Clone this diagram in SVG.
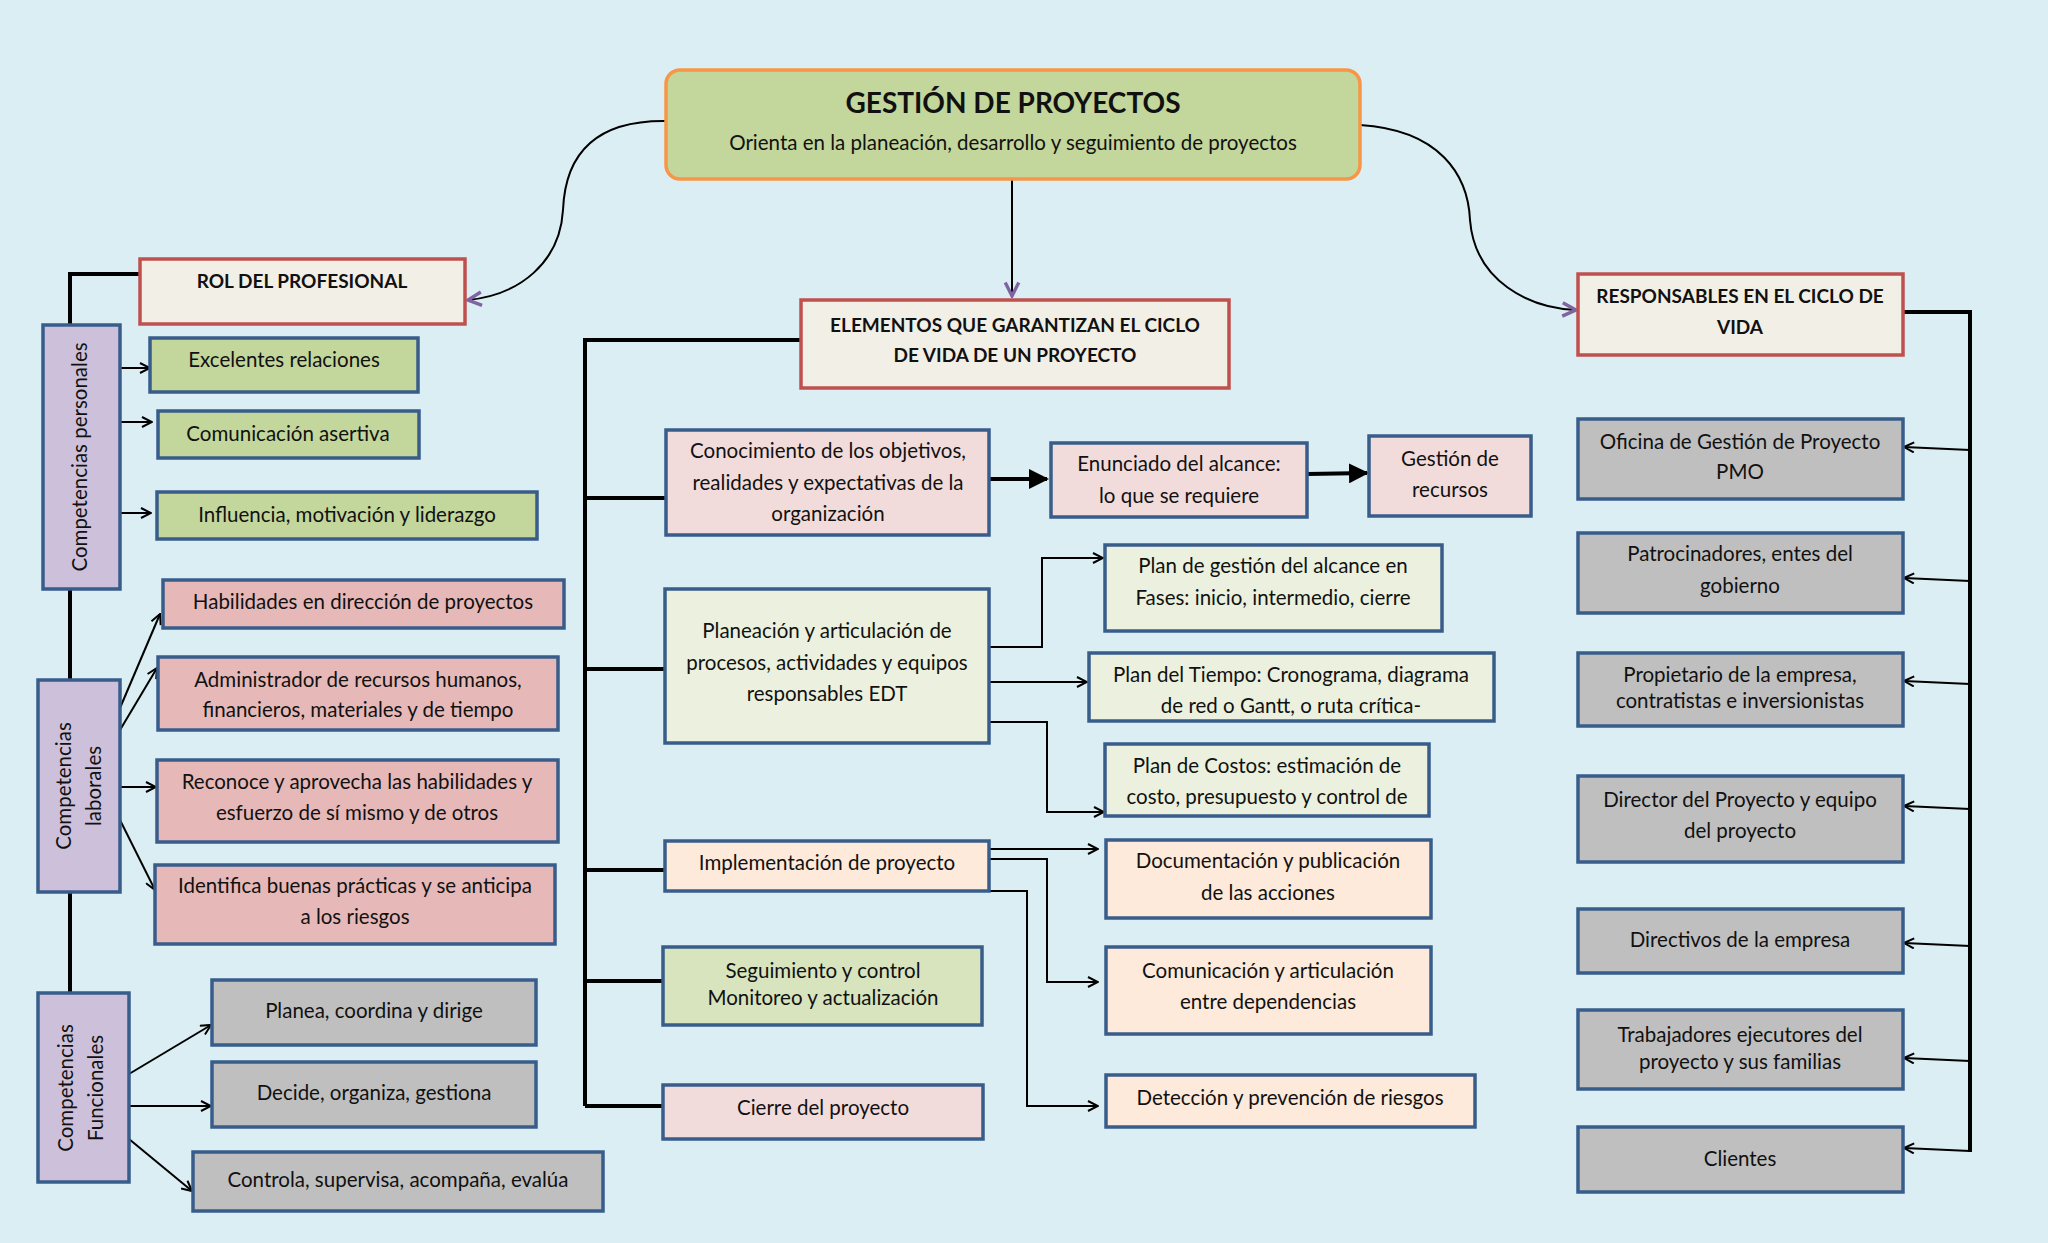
<svg xmlns="http://www.w3.org/2000/svg" width="2048" height="1243" viewBox="0 0 2048 1243">
<style>
text{font-family:Lato,"Open Sans",sans-serif;font-size:20.5px;fill:#111;text-anchor:middle;dominant-baseline:middle}
.b{font-weight:bold;font-size:19px}
.n rect{stroke:#385d8a;stroke-width:3.5}
.g rect{fill:#c3d69b}.p rect{fill:#e6b9b8}.gr rect{fill:#bfbfbf}.v rect{fill:#ccc0da}
.lp rect{fill:#f2dcdb}.lg rect{fill:#ebf1de}.or rect{fill:#fdeada}.mg rect{fill:#d7e4bd}
.h rect{fill:#f2efe6;stroke:#c0504d;stroke-width:3.5}
.c path,.c line{fill:none;stroke:#000;stroke-width:2}
.k{stroke-width:4!important}
.pu{fill:none;stroke:#8064a2;stroke-width:3}
</style>
<defs>
<marker id="a" viewBox="0 0 12 12" refX="11" refY="6" markerWidth="12" markerHeight="12" markerUnits="userSpaceOnUse" orient="auto"><path d="M1,1 L11,6 L1,11" fill="none" stroke="#000" stroke-width="2"/></marker>
<marker id="t" viewBox="0 0 10 10" refX="9" refY="5" markerWidth="5" markerHeight="5" orient="auto"><path d="M0,0 L10,5 L0,10 z" fill="#000"/></marker>
<marker id="pm" viewBox="0 0 16 16" refX="14" refY="8" markerWidth="18" markerHeight="18" markerUnits="userSpaceOnUse" orient="auto"><path d="M2,2 L14,8 L2,14" fill="none" stroke="#8064a2" stroke-width="3"/></marker>
<clipPath id="c1"><rect x="1089" y="653" width="405" height="66"/></clipPath>
<clipPath id="c2"><rect x="1105" y="744" width="324" height="70"/></clipPath>
</defs>
<rect width="2048" height="1243" fill="#dbeef4"/>
<g class="c">
<path class="pu" d="M666,121 C590,120 565,160 563,210 C560,262 520,295 468,300" marker-end="url(#pm)"/>
<path class="pu" d="M1012,179 L1012,296" marker-end="url(#pm)"/>
<path class="pu" d="M1360,125 C1440,130 1468,175 1470,220 C1475,282 1530,308 1576,310" marker-end="url(#pm)"/>
<path class="k" d="M140,274 H70 V993"/>
<line x1="120" y1="368" x2="150" y2="368" marker-end="url(#a)"/>
<line x1="120" y1="422" x2="152" y2="422" marker-end="url(#a)"/>
<line x1="120" y1="513" x2="151" y2="513" marker-end="url(#a)"/>
<line x1="120" y1="708" x2="160" y2="614" marker-end="url(#a)"/>
<line x1="120" y1="730" x2="157" y2="668" marker-end="url(#a)"/>
<line x1="120" y1="787" x2="156" y2="787" marker-end="url(#a)"/>
<line x1="120" y1="820" x2="155" y2="890" marker-end="url(#a)"/>
<line x1="129" y1="1074" x2="211" y2="1025" marker-end="url(#a)"/>
<line x1="129" y1="1106" x2="211" y2="1106" marker-end="url(#a)"/>
<line x1="129" y1="1139" x2="192" y2="1191" marker-end="url(#a)"/>
<path class="k" d="M801,340 H585 V1106 M585,498 H666 M585,669 H665 M585,870 H665 M585,981 H663 M585,1106 H663"/>
<line class="k" x1="989" y1="479" x2="1047" y2="479" marker-end="url(#t)"/>
<line class="k" x1="1307" y1="474" x2="1367" y2="473" marker-end="url(#t)"/>
<path d="M989,647 H1042 V558 H1103" marker-end="url(#a)"/>
<path d="M989,682 H1087" marker-end="url(#a)"/>
<path d="M989,722 H1047 V812 H1104" marker-end="url(#a)"/>
<path d="M989,849 H1098" marker-end="url(#a)"/>
<path d="M989,859 H1047 V982 H1098" marker-end="url(#a)"/>
<path d="M989,891 H1027 V1106 H1098" marker-end="url(#a)"/>
<path class="k" d="M1903,312 H1970 V1152"/>
<line x1="1970" y1="450" x2="1904" y2="447" marker-end="url(#a)"/>
<line x1="1970" y1="581" x2="1904" y2="578" marker-end="url(#a)"/>
<line x1="1970" y1="684" x2="1904" y2="681" marker-end="url(#a)"/>
<line x1="1970" y1="809" x2="1904" y2="806" marker-end="url(#a)"/>
<line x1="1970" y1="946" x2="1904" y2="943" marker-end="url(#a)"/>
<line x1="1970" y1="1061" x2="1904" y2="1058" marker-end="url(#a)"/>
<line x1="1970" y1="1151" x2="1904" y2="1148" marker-end="url(#a)"/>
</g>
<g id="top"><rect x="666" y="70" width="694" height="109" rx="14" fill="#c3d69b" stroke="#f79646" stroke-width="3.5"/><text x="1013" y="106" style="font-weight:bold;font-size:28px">GESTIÓN  DE PROYECTOS</text><text x="1013" y="145">Orienta en la planeación, desarrollo y seguimiento de proyectos</text></g>
<g id="rol" class="h"><rect x="140" y="259" width="325" height="65"/><text class="b" x="302" y="283">ROL DEL PROFESIONAL</text></g>
<g id="elem" class="h"><rect x="801" y="300" width="428" height="88"/><text class="b" x="1015" y="327">ELEMENTOS QUE GARANTIZAN  EL CICLO</text><text class="b" x="1015" y="357">DE VIDA DE UN PROYECTO</text></g>
<g id="resp" class="h"><rect x="1578" y="274" width="325" height="81"/><text class="b" x="1740" y="298">RESPONSABLES EN EL CICLO DE</text><text class="b" x="1740" y="329">VIDA</text></g>
<g id="cp" class="n v"><rect x="43" y="325" width="77" height="264"/><text transform="translate(82,457) rotate(-90)">Competencias personales</text></g>
<g id="cl" class="n v"><rect x="38" y="680" width="82" height="212"/><text transform="translate(66,786) rotate(-90)">Competencias</text><text transform="translate(96,786) rotate(-90)">laborales</text></g>
<g id="cf" class="n v"><rect x="38" y="993" width="91" height="189"/><text transform="translate(68,1088) rotate(-90)">Competencias</text><text transform="translate(98,1088) rotate(-90)">Funcionales</text></g>
<g id="g1" class="n g"><rect x="150" y="338" width="268" height="54"/><text x="284" y="362">Excelentes relaciones</text></g>
<g id="g2" class="n g"><rect x="158" y="411" width="261" height="47"/><text x="288" y="436">Comunicación asertiva</text></g>
<g id="g3" class="n g"><rect x="157" y="492" width="380" height="47"/><text x="347" y="517">Influencia, motivación y liderazgo</text></g>
<g id="p1" class="n p"><rect x="163" y="580" width="401" height="48"/><text x="363" y="604">Habilidades en dirección de proyectos</text></g>
<g id="p2" class="n p"><rect x="158" y="657" width="400" height="73"/><text x="358" y="682">Administrador de recursos humanos,</text><text x="358" y="712">financieros, materiales y de tiempo</text></g>
<g id="p3" class="n p"><rect x="157" y="760" width="401" height="82"/><text x="357" y="784">Reconoce y aprovecha las habilidades y</text><text x="357" y="815">esfuerzo de sí mismo y de otros</text></g>
<g id="p4" class="n p"><rect x="155" y="865" width="400" height="79"/><text x="355" y="888">Identifica buenas prácticas y se  anticipa</text><text x="355" y="919">a los riesgos</text></g>
<g id="f1" class="n gr"><rect x="212" y="980" width="324" height="65"/><text x="374" y="1013">Planea, coordina y dirige</text></g>
<g id="f2" class="n gr"><rect x="212" y="1062" width="324" height="65"/><text x="374" y="1095">Decide, organiza, gestiona</text></g>
<g id="f3" class="n gr"><rect x="193" y="1152" width="410" height="59"/><text x="398" y="1182">Controla, supervisa, acompaña, evalúa</text></g>
<g id="m1" class="n lp"><rect x="666" y="430" width="323" height="105"/><text x="828" y="453">Conocimiento de los objetivos,</text><text x="828" y="485">realidades y expectativas  de la</text><text x="828" y="516">organización</text></g>
<g id="m1a" class="n lp"><rect x="1051" y="443" width="256" height="74"/><text x="1179" y="466">Enunciado del alcance:</text><text x="1179" y="498">lo que se requiere</text></g>
<g id="m1b" class="n lp"><rect x="1369" y="436" width="162" height="80"/><text x="1450" y="461">Gestión de</text><text x="1450" y="492">recursos</text></g>
<g id="m2" class="n lg"><rect x="665" y="589" width="324" height="154"/><text x="827" y="633">Planeación y articulación de</text><text x="827" y="665">procesos, actividades y equipos</text><text x="827" y="696">responsables EDT</text></g>
<g id="m2a" class="n lg"><rect x="1105" y="545" width="337" height="86"/><text x="1273" y="568">Plan de gestión del alcance en</text><text x="1273" y="600">Fases: inicio, intermedio, cierre</text></g>
<g id="m2b" class="n lg"><rect x="1089" y="653" width="405" height="68"/><g clip-path="url(#c1)"><text x="1291" y="677">Plan del Tiempo: Cronograma, diagrama</text><text x="1291" y="708">de red o Gantt, o ruta crítica-</text></g></g>
<g id="m2c" class="n lg"><rect x="1105" y="744" width="324" height="72"/><g clip-path="url(#c2)"><text x="1267" y="768">Plan de Costos: estimación  de</text><text x="1267" y="799">costo, presupuesto y control de</text></g></g>
<g id="m3" class="n or"><rect x="665" y="841" width="324" height="50"/><text x="827" y="865">Implementación de proyecto</text></g>
<g id="m3a" class="n or"><rect x="1106" y="840" width="325" height="78"/><text x="1268" y="863">Documentación y publicación</text><text x="1268" y="895">de las acciones</text></g>
<g id="m3b" class="n or"><rect x="1106" y="947" width="325" height="87"/><text x="1268" y="973">Comunicación y articulación</text><text x="1268" y="1004">entre dependencias</text></g>
<g id="m3c" class="n or"><rect x="1106" y="1075" width="369" height="52"/><text x="1290" y="1100">Detección y prevención de riesgos</text></g>
<g id="m4" class="n mg"><rect x="663" y="947" width="319" height="78"/><text x="823" y="973">Seguimiento y control</text><text x="823" y="1000">Monitoreo y actualización</text></g>
<g id="m5" class="n lp"><rect x="663" y="1085" width="320" height="54"/><text x="823" y="1110">Cierre del proyecto</text></g>
<g id="r1" class="n gr"><rect x="1578" y="419" width="325" height="80"/><text x="1740" y="444">Oficina  de Gestión de Proyecto</text><text x="1740" y="474">PMO</text></g>
<g id="r2" class="n gr"><rect x="1578" y="533" width="325" height="80"/><text x="1740" y="556">Patrocinadores,  entes del</text><text x="1740" y="588">gobierno</text></g>
<g id="r3" class="n gr"><rect x="1578" y="653" width="325" height="73"/><text x="1740" y="677">Propietario de la empresa,</text><text x="1740" y="703">contratistas e inversionistas</text></g>
<g id="r4" class="n gr"><rect x="1578" y="776" width="325" height="86"/><text x="1740" y="802">Director del Proyecto y equipo</text><text x="1740" y="833">del proyecto</text></g>
<g id="r5" class="n gr"><rect x="1578" y="909" width="325" height="64"/><text x="1740" y="942">Directivos de la empresa</text></g>
<g id="r6" class="n gr"><rect x="1578" y="1010" width="325" height="79"/><text x="1740" y="1037">Trabajadores ejecutores del</text><text x="1740" y="1064">proyecto y sus familias</text></g>
<g id="r7" class="n gr"><rect x="1578" y="1127" width="325" height="65"/><text x="1740" y="1161">Clientes</text></g>
</svg>
